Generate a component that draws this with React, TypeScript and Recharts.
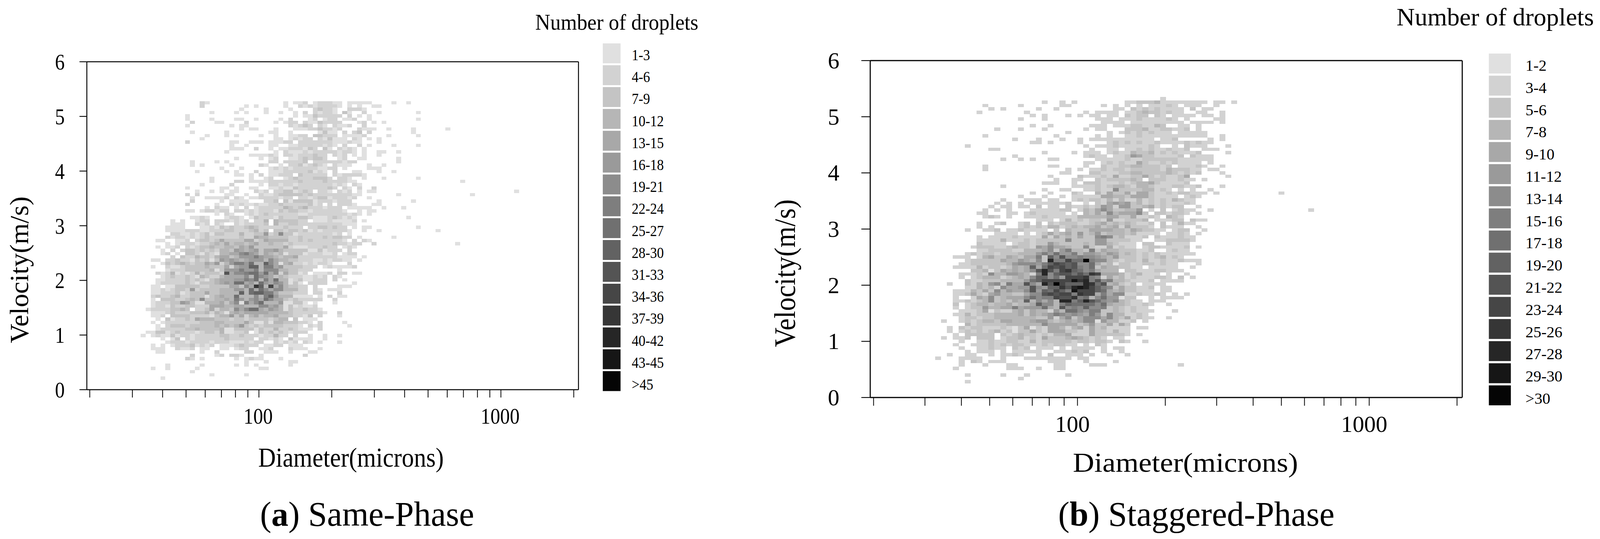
import React from "react";
import { ScatterChart, Scatter, XAxis, YAxis, ReferenceLine } from "recharts";

const grayLevels = ["#e0e0e0","#d2d2d2","#c4c4c4","#b6b6b6","#a8a8a8","#9a9a9a","#8c8c8c","#7e7e7e","#707070","#626262","#545454","#464646","#363636","#262626","#161616","#050505"];
const levelKeys = "123456789abcdefg";
const legendSame = ["1-3","4-6","7-9","10-12","13-15","16-18","19-21","22-24","25-27","28-30","31-33","34-36","37-39","40-42","43-45",">45"];
const legendStaggered = ["1-2","3-4","5-6","7-8","9-10","11-12","13-14","15-16","17-18","19-20","21-22","23-24","25-26","27-28","29-30",">30"];
const xTicks = [20,30,40,50,60,70,80,90,100,200,300,400,500,600,700,800,900,1000,2000];
const xLabels = [100,1000];
const yTicks = [0,1,2,3,4,5,6];

// Each entry: velocity row | diameter-bin:shade-keys ...
const sameCells = [
"87|12:21 29:1 31:112 35:1222 39:11 42:11111 51:1 54:1",
"86|12:2 21:1 23:1 29:1 32:2121 36:2222 40:1 42:1 44:1 47:11",
"85|20:1 25:1 30:1 35:23221 42:222 45:1",
"84|14:1 19:1 21:1 25:1 28:1 31:1 33:2 35:21221 41:31 45:2 48:1 56:1",
"83|9:1 31:1 33:11 35:322222 42:2 44:1 46:1",
"82|9:1 14:1 19:11 23:1 28:1 30:2 34:12 37:122 41:112 46:1 56:1",
"81|10:2 15:11 21:2 27:1 29:1 30:22 33:211 36:32222 44:12 47:1 49:1",
"80|9:1 18:1 20:11 30:21232 36:21 39:2112 45:2",
"79|20:1 22:11 27:1 31:111 34:22322 39:12 44:2111 50:1 55:1 62:1",
"78|10:1 17:1 26:11 30:1 36:1311 41:2 43:23 46:2 55:1",
"77|13:1 17:1 19:1 24:1 27:1 30:1122 35:33222 41:1111 45:2 50:1 56:1",
"76|12:1 27:11 30:12122 36:2131 40:11 43:21 46:1 48:1",
"75|9:2 18:11 22:111 26:11122 32:2222222 39:111 42:211 48:1",
"74|18:1 21:1 26:11 30:11 32:22222 37:121 41:2 44:2 46:1 51:1 56:1",
"73|18:111 23:2 26:1 28:11 30:222132 37:31 40:2121 45:1",
"72|17:1 27:1 29:2111 33:21 35:22222 40:122 43:1 45:1 48:11 52:1",
"71|22:1111 26:21 29:221 32:222322 39:212 43:1 45:1 48:1",
"70|19:1 24:1 26:12 30:11232332 40:12 44:11 52:1",
"69|10:1 15:1 17:1 26:22 29:22223 35:222222 41:122 52:1",
"68|10:1 12:1 18:1 24:21 28:1 30:22312321 39:2111 46:1 49:1",
"67|16:1 20:1 26:12121 31:22222 36:1122 41:1 46:111",
"66|11:1 17:1 19:1 23:2 26:111 29:22222 34:3121 39:2 43:11 48:1 51:1",
"65|19:11 22:1 24:2 26:11222 32:322222 39:21 41:2222 45:1",
"64|14:1 22:1 25:12 29:123 32:222 35:3332 40:221 45:1 49:1 56:1",
"63|14:1 19:22 22:1111 26:222222 32:3 33:2222 37:3 38:2222 42:11 65:1",
"62|12:1 18:2 24:1 26:22122 31:1 32:2222222 39:121 43:21",
"61|9:1 16:11 19:1 22:11 26:112113 32:222222 38:32 41:21 44:2 47:2",
"60|11:1 14:1 16:1 18:11 23:212 27:22331232 36:221 40:212 44:1 46:11 76:1",
"59|9:2 11:2 17:11 21:1 24:2112 28:33333 33:23 35:22222222 43:11 52:1 67:1",
"58|10:1 13:1111 17:2 19:21 22:11 24:2222 28:122 32:2212 36:33 38:1222 42:12 46:1",
"57|10:2 16:1 18:1111 25:223 29:31 31:3333 35:1 36:222 39:1 40:222 48:1 55:1",
"56|9:2 15:1 18:21211 23:2 24:11 26:22 28:3 29:22222 34:312 38:2 40:222 43:1 47:11",
"55|13:1 15:211 19:1 21:2 23:1 24:22222 29:43234 34:222 37:1 38:222 42:11111 49:1 53:1",
"54|9:11 12:122122 19:22121 24:222 27:1 28:323322 34:1 35:222222 41:1 44:1 46:11",
"53|15:1 17:21 21:121 24:23 26:222222 32:11 34:22222222 42:121 46:1",
"52|10:1121 17:1 18:221 22:13 24:222 27:13 29:222 32:332 35:111 38:2321 42:21 54:1",
"51|6:1 8:1 11:122 15:222 18:1212 23:224 27:4 28:3333 32:22 35:111 38:2 39:1111 43:2 45:1",
"50|6:11 8:1 11:212 15:21 19:21 21:2222 25:3 27:4 28:22 30:33 32:222222222 41:111",
"49|5:11 7:11 12:11 14:2132322343 24:22222 29:3 30:222 34:22 36:33 38:2322 43:1 45:11 56:1",
"48|5:1111 9:22211 14:222 17:33 19:222 22:342 25:3 27:33 29:2 30:33 32:23 34:121 37:22222 42:1 45:1 48:1 60:1",
"47|6:22112123133222422336237331222222212 42:1",
"46|5:2122 9:1212322222232254433332232222323322 44:1 51:1",
"45|3:11 7:112 11:2332353333552354444223232222221 43:2 45:21",
"44|5:1 7:12221223435344345334332322222222322122 47:2 64:1",
"43|3:1 5:112 9:2123343344354633333352111222322 41:121",
"42|4:1 6:2 8:233232324436545635564333331131222 42:2",
"41|4:12 7:1 9:3321321445578653543413331222112 41:122",
"40|6:2 8:322433245534666865543445222222221111 45:1",
"39|2:11 5:22322132313656545666475443322211212211 44:1",
"38|4:132343233546246886944a7514522121221 42:2",
"37|2:1 5:21123333433352566aa488563333222 37:1211112",
"36|5:122233333413666866847774433222 40:1",
"35|3:21241212423332b5778996957253312 35:1112 40:22 43:11",
"34|4:1232232143224555574976534322211212 39:21",
"33|3:11222232321345556687948594412311222 39:2 41:1",
"32|3:122222321333456599564965764131 34:2222 43:1",
"31|2:11 5:113333322333355375da4c5743322 35:2 40:111",
"30|2:11212332623333444664959757744422 35:21 38:111",
"29|2:112223123335334444a49aa885333222 35:22 40:2",
"28|2:232234223331345449444748a64441111 36:1 38:2 40:11",
"27|2:1 4:333223437334454864675975532322222 39:2",
"26|2:12223365311444535718579444611331 35:1 39:1",
"25|2:1221322332225554455444775641312112",
"24|1:122223343 11:22352443757995465413223221",
"23|2:111232223334243145455555444432222221 40:2",
"22|2:112 6:33332222134463524534453332213 36:2 40:1",
"21|3:1 5:3122325444333233233332344 31:3 33:111",
"20|2:1 4:1222222233344333353113144333221 36:2 41:1",
"19|3:1 5:2333233333434346323233332221 34:212 42:1",
"18|3:12222233433334113333132242232111 36:2",
"17|1:113312322212332411223 23:13232321222",
"16|0:1 2:1211312212222233223222122422 31:2 34:1 37:1 40:1",
"15|4:1 6:13 9:21 11:222222 17:3 18:22222 24:22 26:121 30:31111 37:1",
"14|5:12221222212221112122 27:21212 33:21 36:1 40:1",
"13|2:1 4:1 6:122231212 16:11123222 25:1122 30:111",
"12|2:111 7:2112 12:11 16:11 19:122 24:112 30:2111 36:1",
"11|3:11 12:1 15:2 21:22 25:111 30:1 34:11",
"10|10:2 15:12 18:221 24:1 33:2",
"9|9:21 12:1 19:1 21:1211 28:1",
"8|21:1 25:1 30:11",
"7|5:1 12:1 19:1 21:1 23:1 30:1",
"6|2:1 5:1 11:1 24:11",
"5|10:1",
"4|14:1 21:1",
"3|4:1",
];

const staggeredCells = [
"88|38:2",
"87|18:2 21:2 23:2 32:22333 37:4 38:22222222 47:22 50:2",
"86|8:2 14:2 21:22 28:2 30:2 32:2 34:2 36:22232 42:222 47:2",
"85|9:2 11:2 17:2 20:2 30:22 33:32323 38:2222 43:3 45:22",
"84|7:2 15:2 25:2 27:2222 32:22 34:34332322 44:22 48:2",
"83|16:2 18:2 22:2 24:2 26:22 29:22 32:32 34:33 37:3 38:2 40:2222 45:22 48:2",
"82|14:2 18:2 27:222 31:2223 35:2222 39:32 42:2 47:22",
"81|28:2222 33:222222222 43:2222 48:2",
"80|16:2 19:2 26:222 30:222 33:33 35:22 37:43 41:22 44:2",
"79|10:2 14:2 18:2 25:2 27:22 32:3334 36:22 38:33 40:22 42:3 44:2",
"78|22:2 29:2 31:23232 36:3222 41:22222",
"77|8:2 20:2 27:2 29:2 32:223 35:22222222222 48:2",
"76|13:2 17:2 21:2 24:2 26:22222222222 38:223 46:2 48:2",
"75|16:22 19:2 24:2 29:23232 34:322 37:3 38:2222 42:32322",
"74|5:2 25:2 27:222 30:3 31:22222 36:32 40:2 42:3 43:222 49:2",
"73|9:22 26:2 29:22 32:22 34:323223223 45:222",
"72|18:2 23:2 25:222 29:23 31:22 33:433423232223 49:2",
"71|13:2 25:2322 30:223 33:65 35:33 37:2222 41:3 43:3222",
"70|11:2 14:2 16:2 19:22 27:22222 32:322 35:333333 41:222222",
"69|25:22 28:2323 32:22 34:53 36:22 38:323 41:2222 46:2",
"68|8:2 19:22 25:2 28:322 31:33 33:44 35:333 38:23 41:222 44:32 48:2",
"67|8:2 22:2 24:2 26:223233 32:2 33:33333 38:24 40:333 43:22 46:22",
"66|21:22 26:33222 31:33 33:44 35:3333 39:432323 48:2",
"65|19:2 24:3222 28:325223353232235 49:2",
"64|20:2 23:22 27:32 29:3333 33:43 36:333 39:22 41:322 45:2",
"63|18:222 23:2 25:333 28:222 31:3 32:23 34:445 37:3 38:2222 42:3",
"62|11:2 23:2222 27:323 30:44 32:32 34:44 36:3 37:222 40:33 42:22 44:3 48:2",
"61|18:2 21:22 25:22 27:3 28:22 30:7 31:3333 35:44 37:232 41:2 43:2 46:2",
"60|16:2 19:2 23:32 27:4253352553223233222 47:2 58:2",
"59|14:2 18:2 21:2 23:22222 28:5544355532222 42:232",
"58|11:2 15:222 19:22 23:232 26:33 28:2424224232324322",
"57|10:2 12:2 14:2 16:222222 22:3 25:2 27:3 28:2 29:565634232322232",
"56|9:2 11:22 14:22 17:3 19:22 22:3 23:22 25:323 28:65266334523233 44:2",
"55|8:2 10:2 12:2 16:22222 21:33 24:2 25:4357533446 36:2 38:3 40:23 42:22 46:2 63:2",
"54|7:22 12:22 15:23 17:22222 23:2 25:43537455573 37:33 39:2 40:33 42:2 44:2",
"53|8:232 12:2 15:222 18:3 19:22222 24:44444 29:55 31:33 33:5 34:22 36:32 39:432",
"52|17:222 21:24232332622 32:3334 37:222 40:33 43:322",
"51|7:2 10:23 14:23 17:3 19:32 21:333 24:22 26:34534343 34:22 36:3 38:3 40:24 42:22",
"50|7:2 9:2 14:23232442343445345253332 38:3222 44:2",
"49|5:2 8:223 12:223 15:2222 20:3 22:4333 26:5555443543322 40:233 45:2",
"48|10:2222 15:2 17:235345363463444342222 39:2232 44:2",
"47|7:2 9:2222 13:32 15:222 18:52 20:5343533787342223 37:3 38:222 41:3 42:22",
"46|7:2222 11:4 12:222 15:32 17:33333 22:7 23:3333 27:66 29:33 31:33 33:22 37:22 39:3333 43:2",
"45|7:32222 13:233 16:2 17:33 19:64 21:33 23:33 25:43 27:66 29:432 32:22 35:33 39:3 40:222",
"44|6:2333223433265755433732252322 35:2 36:33 38:2222 42:3 44:2",
"43|7:22 9:3333 13:22 15:444 18:5 19:736844383544333223 39:2322",
"42|5:232332333444686966846654653432323222222",
"41|3:222 7:2 8:45335435583a7b77877654633323234232",
"40|5:23333354465473e88c99g8774323324223223222",
"39|4:223333334677768acbab77953413322332322 44:2",
"38|3:2222423323545a59cbcab87935443322 36:22222 43:2",
"37|6:33413545457beb8cda9785444 32:33 34:222 37:33 39:222",
"36|4:22232744665428e7abb9b9dc5554234222 39:2 42:2",
"35|4:2 6:23444234547aa796cccd87253423222332 41:3 43:2",
"34|5:322333444469acccccfde8b784432223 38:2222",
"33|2:2 5:3243673855b75ebgcaaaed9b45323 35:2222",
"32|5:22434275566b76aadbefeca873533223 38:22",
"31|3:2224353746557b6a9ca8fccca954533222 38:22",
"30|3:223532564433577bcbcc8dcc585772232232 40:2 42:2",
"29|3:2 6:25473455579788cbbd8947966133 36:2 38:2222",
"28|3:223234734354a47574ee8aeb97674322 36:222",
"27|3:3 5:234434453445a7748a99997954432232 39:2",
"26|3:2 5:2336445585666954b787a7783432322",
"25|4:222351322453544264997688334323222 40:2",
"24|3:224233344445354568767658637442232",
"23|4:233233444444433625735777574352322 39:2",
"22|1:2 4:232344355444566434545771644223 35:2",
"21|5:4233333444444755555346335253",
"20|2:2 4:32332223213513255424525342222 34:22",
"19|2:2 4:23232342313353255533225332422",
"18|3:2 5:33333 11:3234332324452225333332 34:2",
"17|1:2 3:223 7:333 11:233423253334543232 30:22",
"16|4:2 7:223 10:22 12:33 14:22 16:4 17:2 18:33 20:33 22:3 23:2 24:33 26:2 27:33 29:2 31:32 35:2",
"15|3:2 6:222 9:323233222323322 25:2 27:32",
"14|4:2 7:223 10:22 13:323 17:222 21:2 23:2222 28:2 30:22",
"13|5:2 7:222 11:2 13:22222 20:222 23:323 28:2 31:2",
"12|2:2 5:22 9:2 11:2232 17:2 19:3 22:222 26:2 29:2 32:2",
"11|0:2 4:2222 11:2 15:22222222 24:22",
"10|4:2 6:32 9:222 19:222 25:2 30:2",
"9|4:2 8:2 12:22 20:22 26:222 41:2",
"8|3:2 12:222 17:2 20:22",
"6|5:2 11:2 15:2 22:2",
"5|14:2",
"4|5:2",
];

const BIN_LOG0 = 1.512;
const BIN_DLOG = 0.0203;
const BIN_DV = 0.06;

function parseCells(rows: string[], vShift: number) {
  const out: { d: number; v: number; level: number }[] = [];
  for (const row of rows) {
    const [rs, spec] = row.split("|");
    const r = Number(rs);
    for (const seg of spec.trim().split(/\s+/)) {
      const [cs, lv] = seg.split(":");
      if (!lv) continue;
      const c0 = Number(cs);
      [...lv].forEach((ch, i) => {
        const level = levelKeys.indexOf(ch);
        if (level < 0) return;
        out.push({
          d: Math.pow(10, BIN_LOG0 + BIN_DLOG * (c0 + i + 0.5)),
          v: (r + 0.5) * BIN_DV + vShift,
          level,
        });
      });
    }
  }
  return out;
}

const SERIF = "'Liberation Serif'";

function Txt({ x, y, size, sx = 1, rot = 0, anchor = "start", children }: any) {
  return (
    <text
      transform={`translate(${x},${y}) rotate(${rot}) scale(${sx},1)`}
      fontFamily={SERIF}
      fontSize={size}
      textAnchor={anchor}
      fill="#000"
    >
      {children}
    </text>
  );
}

function Panel({ cells, left, width, plot, xDomain, cell, lw, tickX, tickY, yFont, xFont, xDx }: any) {
  const YTick = (p: any) => (
    <Txt x={p.x + tickY.dx} y={p.y + 20} size={yFont.size} sx={yFont.sx} anchor="middle">{p.payload.value}</Txt>
  );
  const XTick = (p: any) =>
    xLabels.includes(p.payload.value) ? (
      <Txt x={p.x + xDx} y={p.y + 65} size={xFont.size} sx={xFont.sx} anchor="middle">{p.payload.value}</Txt>
    ) : (
      <g />
    );
  return (
    <div style={{ position: "absolute", left, top: 0 }}>
      <ScatterChart
        width={width}
        height={1379}
        margin={{ top: plot.top, left: plot.left - left - 100, right: left + width - plot.right, bottom: 1379 - plot.bottom - 100 }}
      >
        <XAxis
          type="number"
          dataKey="d"
          scale="log"
          domain={xDomain}
          allowDataOverflow
          ticks={xTicks}
          interval={0}
          height={100}
          tickSize={tickX}
          tick={XTick}
          stroke="#000"
          strokeWidth={lw}
          axisLine={{ stroke: "#000", strokeWidth: lw }}
          tickLine={{ stroke: "#000", strokeWidth: 2 }}
        />
        <YAxis
          type="number"
          dataKey="v"
          domain={[0, 6]}
          ticks={yTicks}
          interval={0}
          width={100}
          tickSize={tickY.size}
          tick={YTick}
          axisLine={{ stroke: "#000", strokeWidth: lw }}
          tickLine={{ stroke: "#000", strokeWidth: 2.2 }}
        />
        <Scatter
          data={cells}
          isAnimationActive={false}
          shape={(p: any) => (
            <rect
              x={p.cx - cell.w / 2}
              y={p.cy - cell.h / 2}
              width={cell.w}
              height={cell.h}
              fill={grayLevels[p.payload.level]}
              shapeRendering="crispEdges"
            />
          )}
        />
        <ReferenceLine y={6} stroke="#000" strokeWidth={lw} />
        <ReferenceLine x={xDomain[1]} stroke="#000" strokeWidth={lw} />
      </ScatterChart>
    </div>
  );
}

function LegendBlock({ labels, sw, txt, title }: any) {
  return (
    <g>
      <Txt x={title.x} y={title.y} size={title.size} sx={title.sx}>Number of droplets</Txt>
      {labels.map((l: string, i: number) => (
        <g key={l}>
          <rect x={sw.x} y={sw.y + sw.step * i} width={sw.w} height={sw.h} fill={grayLevels[i]} />
          <Txt x={txt.x} y={txt.y + txt.step * i} size={txt.size} sx={txt.sx}>{l}</Txt>
        </g>
      ))}
    </g>
  );
}

export default function App() {
  const same = parseCells(sameCells, 0);
  const stag = parseCells(staggeredCells, 0.01);
  // The browser viewport is 4096 wide; the layout below is in the reference's 4146-wide coordinates.
  const fit = Math.min(1, (typeof window !== "undefined" ? window.innerWidth : 4146) / 4146);
  return (
    <div style={{ position: "absolute", left: 0, top: 0, width: 4146, height: 1379, background: "#fff", overflow: "hidden", transform: `scaleX(${fit})`, transformOrigin: "0 0" }}>
      <Panel
        cells={same}
        left={0}
        width={2073}
        plot={{ left: 225, right: 1499, top: 158, bottom: 997 }}
        xDomain={[19.45, 2092]}
        cell={{ w: 12.9, h: 8.5 }}
        lw={2.4}
        tickX={20}
        tickY={{ size: 19, dx: -49 }}
        yFont={{ size: 58, sx: 0.87 }}
        xFont={{ size: 58, sx: 0.87 }}
        xDx={-2}
      />
      <Panel
        cells={stag}
        left={2073}
        width={2073}
        plot={{ left: 2255, right: 3789, top: 155, bottom: 1017 }}
        xDomain={[19.48, 2084]}
        cell={{ w: 15.5, h: 8.75 }}
        lw={2.8}
        tickX={21}
        tickY={{ size: 23, dx: -70 }}
        yFont={{ size: 60, sx: 1 }}
        xFont={{ size: 60, sx: 1 }}
        xDx={-13}
      />
      <svg width={4146} height={1379} style={{ position: "absolute", left: 0, top: 0, pointerEvents: "none" }}>
        <Txt x={73} y={878} size={69} rot={-90}>Velocity(m/s)</Txt>
        <Txt x={669} y={1194} size={70} sx={0.903}>Diameter(microns)</Txt>
        <text x={674} y={1345} fontFamily={SERIF} fontSize={88}>(<tspan fontWeight="bold">a</tspan>) Same-Phase</text>
        <LegendBlock
          labels={legendSame}
          title={{ x: 1387, y: 76, size: 56, sx: 0.964 }}
          sw={{ x: 1562, y: 111, w: 46, h: 51, step: 55.9 }}
          txt={{ x: 1637, y: 154, step: 56.2, size: 41, sx: 0.87 }}
        />
        <Txt x={2060} y={888} size={76} sx={0.914} rot={-90}>Velocity(m/s)</Txt>
        <Txt x={2780} y={1207} size={70} sx={1.096}>Diameter(microns)</Txt>
        <text x={2742} y={1345} fontFamily={SERIF} fontSize={88}>(<tspan fontWeight="bold">b</tspan>) Staggered-Phase</text>
        <LegendBlock
          labels={legendStaggered}
          title={{ x: 3619, y: 65, size: 64, sx: 1.02 }}
          sw={{ x: 3858, y: 137, w: 57, h: 51, step: 56.6 }}
          txt={{ x: 3953, y: 181, step: 56.8, size: 41, sx: 1 }}
        />
      </svg>
    </div>
  );
}
